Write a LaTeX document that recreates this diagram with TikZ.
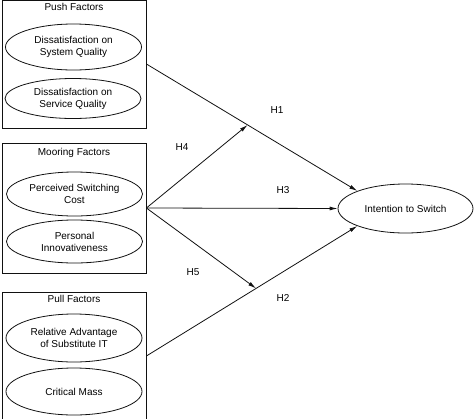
\documentclass[tikz,border=0pt]{standalone}
\usepackage{fontspec}
\setmainfont{Liberation Sans}
\usepackage{xcolor}
\usepackage{tikz}
\usetikzlibrary{calc,arrows.meta,shapes.geometric}
\definecolor{ink}{HTML}{111111}
\tikzset{
  groupbox/.style={draw=ink, line width=0.8pt, minimum width=144pt, inner sep=0pt},
  construct/.style={ellipse, draw=ink, line width=0.8pt, inner sep=0pt,
    minimum width=136pt, minimum height=46pt, align=center,
    font=\fontsize{10}{12}\selectfont},
  grouplab/.style={font=\fontsize{10}{12}\selectfont, anchor=north, inner sep=1pt},
  link/.style={draw=ink, line width=0.8pt, -{Latex[length=8pt,width=4pt]}},
  plainlink/.style={draw=ink, line width=0.8pt},
  lab/.style={font=\fontsize{10}{12}\selectfont, inner sep=0pt},
}

\begin{document}
\begin{tikzpicture}[x=1pt,y=-1pt]
  \useasboundingbox (0,0) rectangle (474,418);

  % the three groups of factors
  \node[groupbox, minimum height=128pt] (push) at (74,64) {};
  \node[groupbox, minimum height=130pt] (mooring) at (74,208) {};
  \node[groupbox, minimum height=128pt] (pull) at (74,356) {};
  \node[grouplab] (pushlab) at ($(push.north)+(0,2)$) {Push Factors};
  \node[grouplab] (mooringlab) at ($(mooring.north)+(0,4)$) {Mooring Factors};
  \node[grouplab] (pulllab) at ($(pull.north)+(0,2)$) {Pull Factors};

  \node[construct] (sysq) at (73.5,47) {Dissatisfaction on\\System Quality};
  \node[construct, minimum height=40pt] (servq) at (73,98.5) {Dissatisfaction on\\Service Quality};
  \node[construct, minimum height=44pt] (cost) at (74.5,194) {Perceived Switching\\Cost};
  \node[construct, minimum height=43pt] (innov) at (74.5,241.5) {Personal\\Innovativeness};
  \node[construct, minimum height=48pt] (advant) at (74,338) {Relative Advantage\\of Substitute IT};
  \node[construct, minimum height=47pt] (mass) at (74,391.5) {Critical Mass};

  % outcome
  \node[construct, minimum width=135pt, minimum height=49pt] (intent) at (405.5,208.5) {Intention to Switch};

  % paths
  \coordinate (h4end) at ($(push.east)!0.48!(intent.160)$);
  \coordinate (h5end) at ($(pull.east)!0.52!(intent.200)$);
  \draw[link] (push.east) -- (intent.160);
  \draw[link] (pull.east) -- (intent.200);
  \draw[link] (mooring.east) -- (intent.west);
  \draw[link] (mooring.east) -- (h4end);
  \draw[link] (mooring.east) -- (h5end);

  \node[lab] (h1) at (277,110) {H1};
  \node[lab] (h4) at (182,147) {H4};
  \node[lab] (h3) at (283,190) {H3};
  \node[lab] (h5) at (193,272) {H5};
  \node[lab] (h2) at (283,298) {H2};
\end{tikzpicture}
\end{document}
